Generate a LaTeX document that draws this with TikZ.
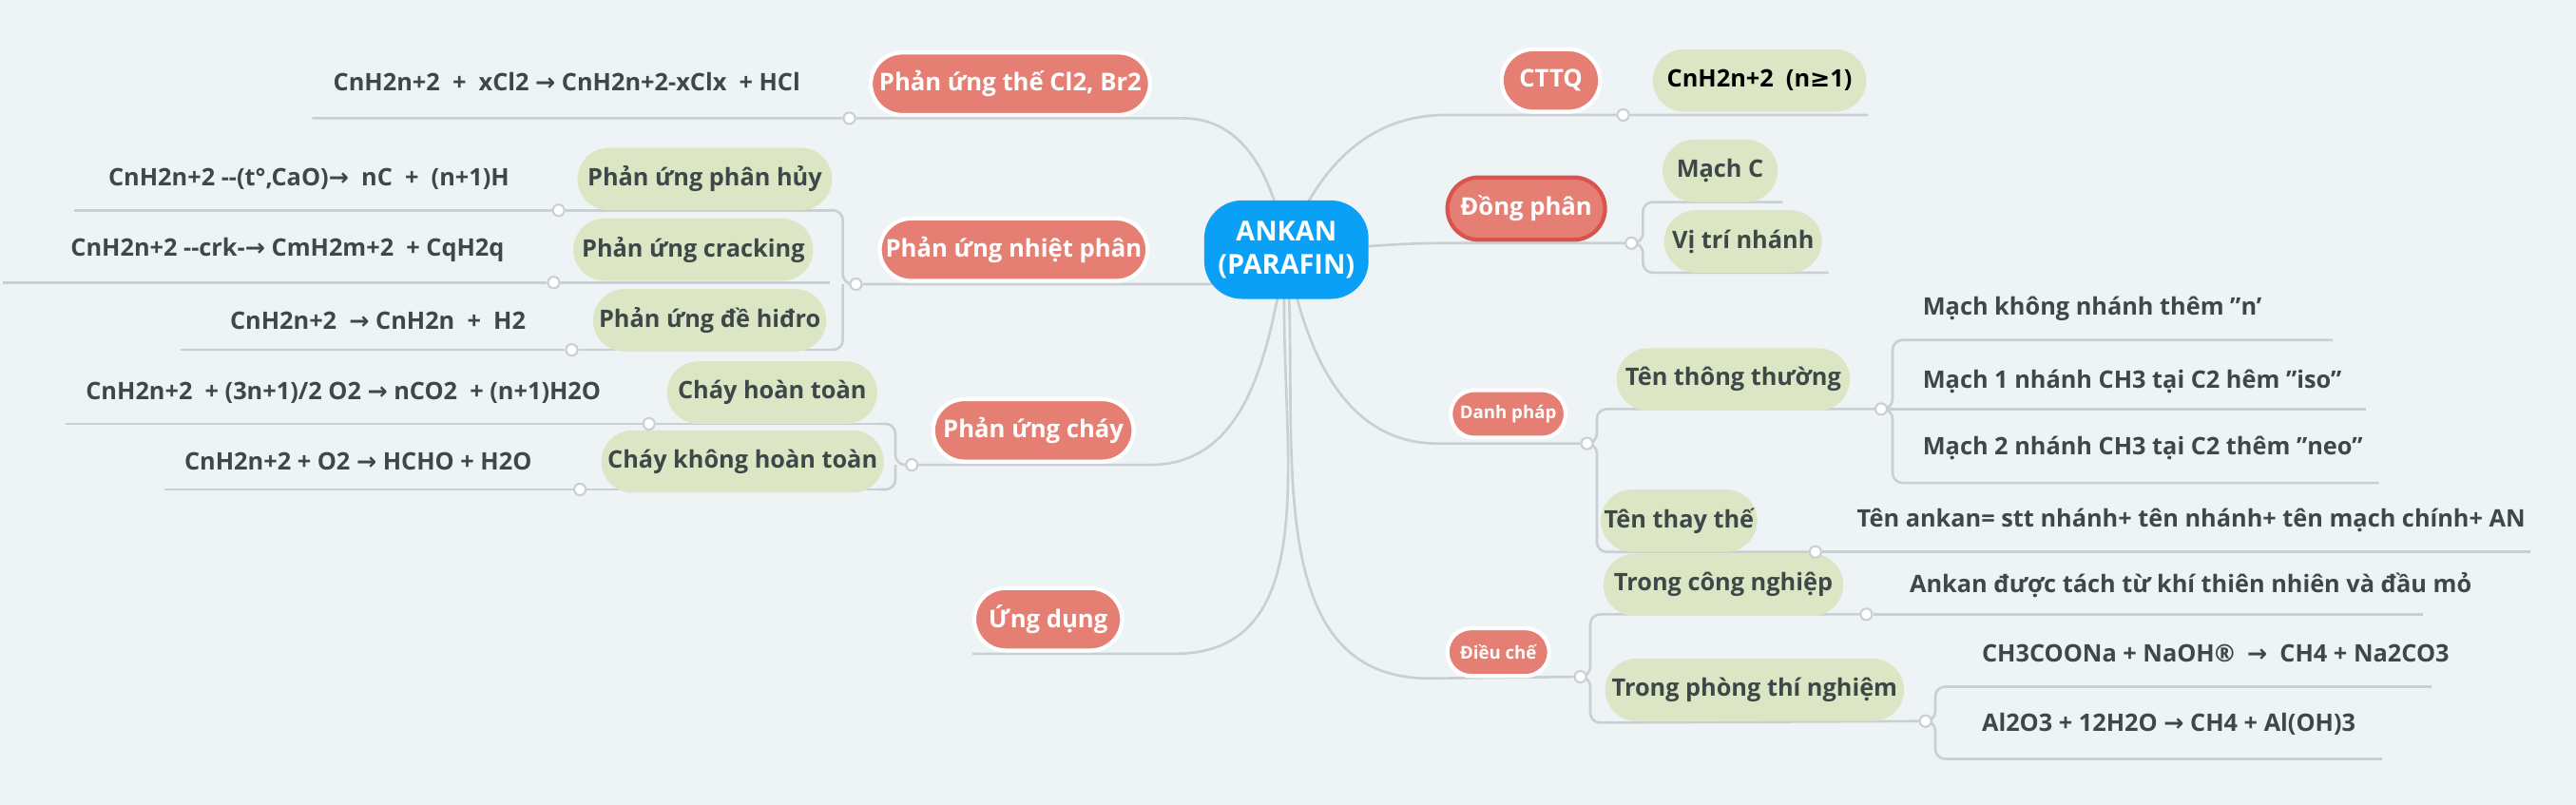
\documentclass[tikz,border=0pt]{standalone}
\usepackage{fontspec}
\setmainfont{Open Sans}
\newfontfamily\symfont{DejaVu Sans}
\newcommand\ar{{\symfont →}}
\newcommand\qq{\char34{}}
\usetikzlibrary{backgrounds}
\definecolor{bgc}{HTML}{EEF3F6}
\definecolor{redc}{HTML}{E57F74}
\definecolor{redb}{HTML}{D9534F}
\definecolor{grc}{HTML}{DCE6C4}
\definecolor{txc}{HTML}{3D4848}
\definecolor{lnc}{HTML}{C9D0D4}
\definecolor{bluec}{HTML}{0AA0F5}
\def\u{0.01728cm}
\tikzset{
 x=0.01728cm, y=-0.01728cm,
 redn/.style={fill=redc, draw=white, line width=1.2pt, rounded corners=0.33cm, minimum height=38*\u, text=white, font=\fontsize{7.3}{9}\selectfont\bfseries, inner sep=1pt},
 reds/.style={fill=redc, draw=white, line width=1.2pt, rounded corners=0.25cm, minimum height=29*\u, text=white, font=\fontsize{5.3}{7}\selectfont\bfseries, inner sep=1pt},
 grn/.style={fill=grc, rounded corners=0.33cm, minimum height=38*\u, text=txc, font=\fontsize{7.2}{9}\selectfont\bfseries, inner sep=1pt},
 leaf/.style={text=txc, font=\fontsize{7.2}{9}\selectfont\bfseries, inner sep=0pt},
 ln/.style={draw=lnc, line width=0.75pt},
 br/.style={ln, rounded corners=6*\u},
 dot/.style={circle, draw=lnc, fill=white, line width=0.6pt, minimum size=7*\u, inner sep=0pt},
}
\begin{document}
\begin{tikzpicture}
\useasboundingbox (0,0) rectangle (1568,490);
% root
\node[fill=bluec, rounded corners=0.4cm, minimum width=100*\u, minimum height=60*\u, text=white, font=\fontsize{8.2}{10}\selectfont\bfseries, align=center, inner sep=1pt] (root) at (783,152) {ANKAN\\(PARAFIN)};
% left main
\node[redn, minimum width=170*\u] (the) at (615,51) {Phản ứng thế Cl2, Br2};
\node[redn, minimum width=163*\u] (np) at (617,152) {Phản ứng nhiệt phân};
\node[redn, minimum width=122*\u] (chay) at (629,262) {Phản ứng cháy};
\node[redn, minimum width=90*\u] (ud) at (638,377) {Ứng dụng};
% right main
\node[redn, minimum width=60*\u] (cttq) at (944,49) {CTTQ};
\node[redn, draw=redb, minimum width=96*\u] (dp) at (929,127) {Đồng phân};
\node[reds, minimum width=70*\u] (dph) at (918,252) {Danh pháp};
\node[reds, minimum width=62*\u] (dc) at (912,397) {Điều chế};
% left children
\node[grn, minimum width=155*\u] (ph) at (429,109) {Phản ứng phân hủy};
\node[grn, minimum width=146*\u] (crk) at (422,152) {Phản ứng cracking};
\node[grn, minimum width=142*\u] (dh) at (432,195) {Phản ứng đề hiđro};
\node[grn, minimum width=128*\u] (cht) at (470,239) {Cháy hoàn toàn};
\node[grn, minimum width=172*\u] (chk) at (452,281) {Cháy không hoàn toàn};
% left leaves
\node[leaf] (lthe) at (345,50) {CnH2n+2~~+~~xCl2 \ar{} CnH2n+2-xClx~~+ HCl};
\node[leaf] (lph) at (188,109) {CnH2n+2 {-}{-}(t°,CaO)\ar{}~~nC~~+~~(n+1)H};
\node[leaf] (lcrk) at (175,152) {CnH2n+2 {-}{-}crk-\ar{} CmH2m+2~~+ CqH2q};
\node[leaf] (ldh) at (230,195) {CnH2n+2~~\ar{} CnH2n~~+~~H2};
\node[leaf] (lcht) at (209,239) {CnH2n+2~~+ (3n+1)/2 O2 \ar{} nCO2~~+ (n+1)H2O};
\node[leaf] (lchk) at (218,281) {CnH2n+2 + O2 \ar{} HCHO + H2O};
% right children
\node[grn, minimum width=130*\u, text=black] (ct) at (1071,49) {CnH2n+2~~(n{\symfont ≥}1)};
\node[grn, minimum width=70*\u] (mc) at (1047,104) {Mạch C};
\node[grn, minimum width=96*\u] (vt) at (1061,147) {Vị trí nhánh};
\node[grn, minimum width=142*\u] (ttt) at (1055,231) {Tên thông thường};
\node[grn, minimum width=82*\u] (ttth) at (1022,317) {Tên thay thế};
\node[grn, minimum width=146*\u] (tcn) at (1049,356) {Trong công nghiệp};
\node[grn, minimum width=182*\u] (tptn) at (1068,420) {Trong phòng thí nghiệm};
% right leaves
\node[leaf, anchor=west] (m1) at (1170,188) {Mạch không nhánh thêm \qq n\char39};
\node[leaf, anchor=west] (m2) at (1170,232) {Mạch 1 nhánh CH3 tại C2 hêm \qq iso\qq};
\node[leaf, anchor=west] (m3) at (1170,273) {Mạch 2 nhánh CH3 tại C2 thêm \qq neo\qq};
\node[leaf, anchor=west] (ta) at (1130,317) {Tên ankan= stt nhánh+ tên nhánh+ tên mạch chính+ AN};
\node[leaf, anchor=west] (ak) at (1162,356) {Ankan được tách từ khí thiên nhiên và đầu mỏ};
\node[leaf, anchor=west] (l1) at (1206,398) {CH3COONa + NaOH®~~\ar{}~~CH4 + Na2CO3};
\node[leaf, anchor=west] (l2) at (1206,441) {Al2O3 + 12H2O \ar{} CH4 + Al(OH)3};
% dots
\node[dot] (dthe) at (517,72) {};
\node[dot] (dnp) at (521,173) {};
\node[dot] (dph) at (340,128) {};
\node[dot] (dcrk) at (337,172) {};
\node[dot] (ddh) at (348,213) {};
\node[dot] (dchay) at (555,283) {};
\node[dot] (dcht) at (395,258) {};
\node[dot] (dchk) at (353,298) {};
\node[dot] (dcttq) at (988,70) {};
\node[dot] (ddp) at (993,148) {};
\node[dot] (ddph) at (966,270) {};
\node[dot] (dttt) at (1145,249) {};
\node[dot] (dttth) at (1105,336) {};
\node[dot] (ddc) at (962,412) {};
\node[dot] (dtcn) at (1136,374) {};
\node[dot] (dtptn) at (1172,439) {};
% coordinates
\coordinate (e1) at (190,72); \coordinate (e2) at (45,128); \coordinate (e3) at (2,172);
\coordinate (e4) at (110,213); \coordinate (e5) at (40,258); \coordinate (e6) at (100,298);
\coordinate (e7) at (592,398); \coordinate (e8) at (1137,70);
\begin{scope}[on background layer]
\fill[bgc] (0,0) rectangle (1568,490);
% root connectors
\draw[ln] (e1) -- (dthe) -- (720,72) to[out=0,in=100] (root.center);
\draw[ln] (dnp) -- (735,173) to[out=0,in=190] (root.center);
\draw[ln] (dchay) -- (700,283) to[out=0,in=-100] (root.center);
\draw[ln] (e7) -- (715,398) to[out=0,in=-95] (root.center);
\draw[ln] (root.center) to[out=70,in=180] (880,70) -- (dcttq) -- (e8);
\draw[ln] (root.center) to[out=0,in=180] (880,148) -- (ddp);
\draw[ln] (root.center) to[out=-80,in=180] (875,270) -- (ddph);
\draw[ln] (root.center) to[out=-85,in=180] (870,413) -- (ddc);
% left children
\draw[ln] (e2) -- (dph) -- (505,128);
\draw[ln] (e3) -- (dcrk) -- (505,172);
\draw[ln] (e4) -- (ddh) -- (505,213);
\draw[br] (505,128) -- (513,128) -- (513,173) -- (dnp);
\draw[br] (505,213) -- (513,213) -- (513,173);
\draw[ln] (e5) -- (dcht) -- (535,258);
\draw[ln] (e6) -- (dchk) -- (535,298);
\draw[br] (535,258) -- (545,258) -- (545,283) -- (dchay);
\draw[br] (535,298) -- (545,298) -- (545,283);
% right children
\draw[br] (ddp) -- (1000,148) -- (1000,123) -- (1085,123);
\draw[br] (ddp) -- (1000,148) -- (1000,166) -- (1113,166);
\draw[br] (ddph) -- (972,270) -- (972,249) -- (dttt);
\draw[br] (ddph) -- (972,270) -- (972,336) -- (dttth);
\draw[ln] (dttt) -- (1440,249);
\draw[br] (dttt) -- (1152,249) -- (1152,207) -- (1420,207);
\draw[br] (dttt) -- (1152,249) -- (1152,294) -- (1448,294);
\draw[ln] (dttth) -- (1540,336);
\draw[br] (ddc) -- (968,412) -- (968,374) -- (dtcn);
\draw[br] (ddc) -- (968,412) -- (968,440) -- (dtptn);
\draw[ln] (dtcn) -- (1475,374);
\draw[br] (dtptn) -- (1178,439) -- (1178,418) -- (1480,418);
\draw[br] (dtptn) -- (1178,439) -- (1178,462) -- (1450,462);
\end{scope}
\end{tikzpicture}
\end{document}
